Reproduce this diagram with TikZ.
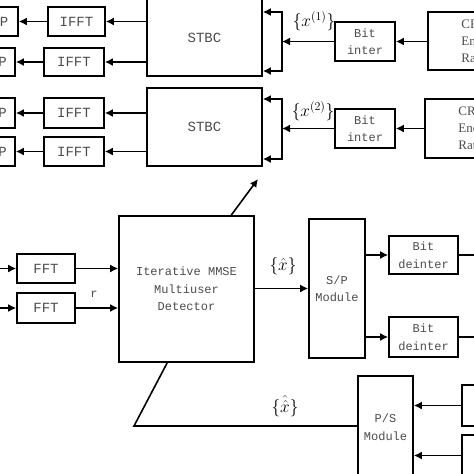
\documentclass[tikz,border=0pt]{standalone}
\usepackage{fontspec}
\setmonofont{Liberation Mono}
\newfontfamily\crcfont{Liberation Serif}
\usetikzlibrary{arrows.meta,calc}

\tikzset{
  blk/.style={draw,line width=1.6pt,inner sep=0pt,align=center,text=black!70,
    font=\ttfamily\fontsize{12}{17.5}\selectfont},
  bigblk/.style={blk,font=\ttfamily\fontsize{14}{16}\selectfont},
  lbl/.style={font=\fontsize{17}{19}\selectfont},
}

\begin{document}
\begin{tikzpicture}[x=1pt,y=-1pt,>={Latex[length=8pt,width=8pt]},line width=1.6pt]
\useasboundingbox (0,0) rectangle (474,474);
\clip (0,0) rectangle (474,474);

\foreach \n/\cx/\y/\w/\h/\ix/\iw in {1/0/21.5/36/29/76.5/57,2/-1.5/62/33/28/74/60,3/-1.5/113/33/30/74/60,4/-1.5/151.5/33/29/74/60}{
	\node[bigblk,minimum width=\w pt,minimum height=\h pt] (cp\n) at (\cx,\y) {CP};
	\node[bigblk,minimum width=\iw pt,minimum height=\h pt] (ifft\n) at (\ix,\y) {IFFT};
	\draw[->] (ifft\n) -- (cp\n);
}

\node[bigblk,minimum width=115pt,minimum height=77pt] (stbc1) at (204.5,37.5) {STBC};
\node[bigblk,minimum width=115pt,minimum height=78pt] (stbc2) at (204.5,127) {STBC};
\draw[->] (stbc1.west |- ifft1) -- (ifft1);
\draw[->] (stbc1.west |- ifft2) -- (ifft2);
\draw[->] (stbc2.west |- ifft3) -- (ifft3);
\draw[->] (stbc2.west |- ifft4) -- (ifft4);

\node[blk,minimum width=60pt,minimum height=39pt] (bitin1) at (365,41.5) {Bit\\inter};
\node[blk,minimum width=60pt,minimum height=39pt] (bitin2) at (365,128.5) {Bit\\inter};
\node[blk,font=\crcfont\fontsize{13}{17}\selectfont,align=left,minimum width=110pt,minimum height=58pt] (crc1) at (483,41) {CRC\\Encoder\\Rate};
\node[blk,font=\crcfont\fontsize{13}{17}\selectfont,align=left,minimum width=110pt,minimum height=59pt] (crc2) at (480,128.5) {CRC\\Encoder\\Rate};
\draw[->] (crc1.west |- bitin1) -- (bitin1);
\draw[->] (crc2.west |- bitin2) -- (bitin2);

\coordinate (f1) at (282,41.5);
\coordinate (f2) at (282,128.5);
\draw[->] (bitin1) -- (f1);
\draw[->] (bitin2) -- (f2);
\draw[<->] (stbc1.east |- 0,12) -- (282,12) -- (282,71) -- (stbc1.east |- 0,71);
\draw[<->] (stbc2.east |- 0,99) -- (282,99) -- (282,159) -- (stbc2.east |- 0,159);
\node[lbl] at (314,21) {$\{x^{(1)}\}$};
\node[lbl] at (313,111) {$\{x^{(2)}\}$};

\node[blk,minimum width=135pt,minimum height=146pt] (mmse) at (186.5,289) {Iterative MMSE\\Multiuser\\Detector};
\coordinate (up) at (258,179);
\draw[->] ([xshift=113pt]mmse.north west) -- (up);

\node[bigblk,minimum width=58pt,minimum height=29pt] (fft1) at (46,268.5) {FFT};
\node[bigblk,minimum width=58pt,minimum height=30pt] (fft2) at (46,308) {FFT};
\coordinate (in1) at (-10,268.5);
\coordinate (in2) at (-10,308);
\draw[->] (in1) -- (fft1);
\draw[->] (in2) -- (fft2);
\draw[->] (fft1) -- (mmse.west |- fft1);
\draw[->] (fft2) -- (mmse.west |- fft2);
\node[blk,draw=none] at (94,294) {r};

\node[blk,minimum width=56pt,minimum height=139pt] (sp) at (337,288.5) {S/P\\Module};
\draw[->] (mmse.east |- sp) -- (sp);
\node[lbl] at (283,266) {$\{\hat{x}\}$};

\node[blk,minimum width=69pt,minimum height=38pt] (bd1) at (423.5,255) {Bit\\deinter};
\node[blk,minimum width=69pt,minimum height=40pt] (bd2) at (423.5,337) {Bit\\deinter};
\draw[->] (sp.east |- bd1) -- (bd1);
\draw[->] (sp.east |- bd2) -- (bd2);
\coordinate (out1) at (490,255);
\coordinate (out2) at (490,337);
\draw (bd1) -- (out1);
\draw (bd2) -- (out2);

\node[blk,minimum width=55pt,minimum height=102pt] (ps) at (385.5,427) {P/S\\Module};
\node[blk,minimum width=58pt,minimum height=41pt] (ra) at (491,405.5) {};
\node[blk,minimum width=58pt,minimum height=41pt] (rb) at (491,455.5) {};
\draw[->] (ra) -- (ps.east |- ra);
\draw[->] (rb) -- (ps.east |- rb);

\coordinate (fb) at (134,426);
\draw (ps.west |- fb) -- (fb) -- ([xshift=49pt]mmse.south west);
\node[lbl] at (285,406) {$\{\hat{\hat{x}}\}$};

\end{tikzpicture}
\end{document}
